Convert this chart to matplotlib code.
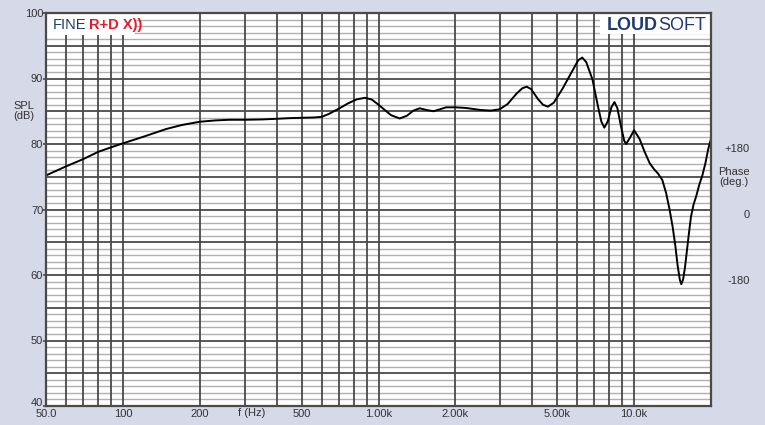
import matplotlib
matplotlib.use("Agg")
import matplotlib.pyplot as plt
import matplotlib.transforms as mtransforms
from matplotlib.patches import Rectangle

# SPL response (Hz, dB)
freq = [50, 60, 70, 80, 90, 100, 120, 148, 170, 200, 230, 262, 300, 350, 400,
        450, 500, 560, 600, 640, 700, 760, 820, 884, 940, 1000, 1050, 1120,
        1210, 1290, 1370, 1450, 1540, 1640, 1740, 1840, 2000, 2200, 2500,
        2750, 2980, 3200, 3470, 3650, 3800, 3950, 4200, 4400, 4600, 4850,
        5260, 5760, 6050, 6270, 6500, 6880, 7200, 7450, 7650, 7900, 8150,
        8380, 8600, 8900, 9150, 9310, 9650, 10000, 10500, 11000, 11500,
        12000, 12400, 12900, 13350, 13800, 14150, 14500, 14800, 15100,
        15300, 15550, 15800, 16000, 16350, 16700, 17100, 17500, 18000,
        18500, 19000, 19500, 20000]
spl = [75.2, 76.6, 77.7, 78.8, 79.5, 80.1, 81.1, 82.3, 82.9, 83.4, 83.6, 83.7,
       83.7, 83.75, 83.85, 83.95, 84.0, 84.05, 84.15, 84.6, 85.4, 86.2, 86.8,
       87.05, 86.8, 86.0, 85.3, 84.4, 83.9, 84.3, 85.1, 85.45, 85.2, 85.0,
       85.3, 85.6, 85.6, 85.5, 85.2, 85.1, 85.3, 86.1, 87.7, 88.5, 88.75,
       88.4, 86.9, 86.0, 85.7, 86.3, 88.5, 91.3, 92.8, 93.2, 92.5, 89.8,
       86.0, 83.4, 82.5, 83.5, 85.6, 86.4, 85.5, 82.6, 80.5, 80.0, 81.0,
       82.1, 80.8, 78.8, 77.1, 76.1, 75.5, 74.5, 72.5, 69.8, 67.4, 64.5,
       61.5, 59.3, 58.6, 59.3, 61.0, 62.8, 66.0, 68.9, 70.8, 72.0, 73.8,
       75.2, 77.0, 79.2, 80.8]

x_ticks = [50, 100, 200, 500, 1000, 2000, 5000, 10000]
x_labels = ["50.0", "100", "200", "500", "1.00k", "2.00k", "5.00k", "10.0k"]
y_ticks = [40, 50, 60, 70, 80, 90, 100]
vgrid = [60, 70, 80, 90, 100, 200, 300, 400, 500, 600, 700, 800, 900, 1000,
         2000, 3000, 4000, 5000, 6000, 7000, 8000, 9000, 10000]
phase_labels = ["+180", "0", "-180"]

BG = "#d5d9e8"
DARK = "#4a4a4a"
LIGHT = "#b0b0b0"
TXT = "#333333"
BLUE = "#1f3a6e"
RED = "#e8192c"
FS = 8
W, H = 765, 425

fig = plt.figure(figsize=(7.65, 4.25), dpi=100, facecolor=BG)
ax = fig.add_axes([46 / W, 1 - 406 / H, (711 - 46) / W, (406 - 13) / H])
ax.set_facecolor("white")
ax.set_xscale("log")
ax.set_xlim(50, 20000)
ax.set_ylim(40, 100)

# grid: light 1 dB lines, dark 5 dB lines, dark frequency lines
for db in range(41, 100):
    if db % 5:
        ax.axhline(db, color=LIGHT, lw=1.0, zorder=1)
for db in range(45, 100, 5):
    ax.axhline(db, color=DARK, lw=1.3, zorder=1.2)
for f in vgrid:
    ax.axvline(f, color=DARK, lw=1.3, zorder=1.2)

# logo boxes
ax.add_patch(Rectangle((46 / W, 1 - 35 / H), 89 / W, 22 / H, transform=fig.transFigure,
                       facecolor="white", edgecolor="none", zorder=2))
ax.add_patch(Rectangle((600 / W, 1 - 34 / H), 110 / W, 21 / H, transform=fig.transFigure,
                       facecolor="white", edgecolor="none", zorder=2))
fig.text(53 / W, 1 - 25 / H, "FINE", color=BLUE, fontsize=10.5, va="center",
         family="Liberation Sans", zorder=5)
fig.text(89 / W, 1 - 25 / H, "R+D X))", color=RED, fontsize=10.5, va="center",
         family="Liberation Sans", fontweight="bold", zorder=5)
fig.text(607 / W, 1 - 25 / H, "LOUD", color=BLUE, fontsize=13, va="center",
         family="Liberation Sans", fontweight="bold", zorder=5)
fig.text(658 / W, 1 - 25 / H, "SOFT", color=BLUE, fontsize=13, va="center",
         family="Liberation Sans", zorder=5)

ax.plot(freq, spl, color="black", lw=1.4, zorder=3)

for s in ax.spines.values():
    s.set_color(DARK)
    s.set_linewidth(1.6)
    s.set_zorder(4)

ax.set_xticks(x_ticks)
ax.set_xticklabels(x_labels)
ax.xaxis.set_minor_locator(plt.NullLocator())
ax.set_yticks(y_ticks)
ax.tick_params(axis="x", length=0, pad=2, labelsize=FS, labelcolor=TXT)
ax.tick_params(axis="y", length=2, width=1.2, color=DARK, pad=0, labelsize=FS, labelcolor=TXT)
for lab in ax.get_xticklabels() + ax.get_yticklabels():
    lab.set_family("Liberation Sans")
# lift the "40" a little so it sits above "50.0"
lab40 = ax.get_yticklabels()[0]
lab40.set_transform(lab40.get_transform() +
                    mtransforms.ScaledTranslation(0, 3 / 72, fig.dpi_scale_trans))

fig.text(252 / W, 1 - 413 / H, "f (Hz)", fontsize=FS, color=TXT, ha="center",
         va="center", family="Liberation Sans")
fig.text(24 / W, 1 - 111 / H, "SPL\n(dB)", fontsize=FS, color=TXT, ha="center",
         va="center", family="Liberation Sans", linespacing=1.0)
fig.text(734 / W, 1 - 177 / H, "Phase\n(deg.)", fontsize=FS, color=TXT, ha="center",
         va="center", family="Liberation Sans", linespacing=1.0)
for lab, yp in zip(phase_labels, [149, 215, 281]):
    fig.text(750 / W, 1 - yp / H, lab, fontsize=FS, color=TXT, ha="right",
             va="center", family="Liberation Sans")

fig.savefig("out.png", dpi=100, facecolor=BG)
